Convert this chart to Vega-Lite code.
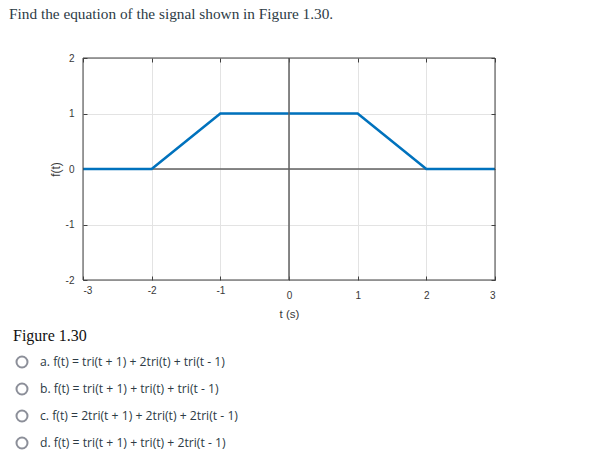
{
  "$schema": "https://vega.github.io/schema/vega-lite/v6.json",
  "background": "white",
  "padding": {"left": 9, "top": 6, "right": 5, "bottom": 5},
  "title": {"text": "Find the equation of the signal shown in Figure 1.30.", "anchor": "start", "frame": "group", "dx": -74, "offset": 31, "baseline": "top", "font": "Liberation Serif", "fontSize": 15.3, "fontWeight": "normal", "color": "#2d3b45"},
  "config": {"view": {"stroke": null}},
  "bounds": "flush",
  "spacing": 55,
  "vconcat": [
    {
      "width": 412,
      "height": 222,
      "resolve": {"axis": {"x": "independent", "y": "independent"}},
      "layer": [
        {
          "data": {"values": [{"v": 0}]},
          "mark": {"type": "rule", "color": "#616161", "strokeWidth": 1.5},
          "encoding": {
            "y": {"field": "v", "type": "quantitative", "scale": {"domain": [-2, 2], "nice": false, "zero": false},
              "axis": {"orient": "right", "values": [-2, -1, 0, 1, 2], "labels": false, "grid": false, "domain": false, "ticks": true, "tickSize": 4, "offset": -4, "tickColor": "#404040", "title": null}}
          }
        },
        {
          "data": {"values": [
            {"t": -3, "f": 0}, {"t": -2, "f": 0}, {"t": -1, "f": 1}, {"t": 1, "f": 1}, {"t": 2, "f": 0}, {"t": 3, "f": 0}
          ]},
          "mark": {"type": "line", "color": "#0072BD", "strokeWidth": 2.6},
          "encoding": {
            "x": {"field": "t", "type": "quantitative", "scale": {"domain": [-3, 3], "nice": false, "zero": false},
              "axis": {"orient": "bottom", "values": [-3, -2, -1, 0, 1, 2, 3], "labelExpr": "'' + datum.value", "grid": true, "gridColor": "#e3e3e3", "domain": false, "ticks": true, "tickSize": 4, "offset": -4, "tickColor": "#404040",
                "labelPadding": {"condition": {"test": "datum.value < 0", "value": 5}, "value": 10}, "labelFont": "Liberation Sans", "labelFontSize": 10, "labelColor": "#383838",
                "title": "t (s)", "titleFont": "Liberation Sans", "titleFontSize": 11.5, "titleFontWeight": "normal", "titleColor": "#383838", "titlePadding": 8}},
            "y": {"field": "f", "type": "quantitative", "scale": {"domain": [-2, 2], "nice": false, "zero": false},
              "axis": {"orient": "left", "values": [-2, -1, 0, 1, 2], "labelExpr": "'' + datum.value", "grid": true, "gridColor": "#e3e3e3", "domain": false, "ticks": true, "tickSize": 4, "offset": -4, "tickColor": "#404040",
                "labelPadding": 9, "labelFont": "Liberation Sans", "labelFontSize": 10, "labelColor": "#383838",
                "title": "f(t)", "titleFont": "Liberation Sans", "titleFontSize": 12, "titleFontWeight": "normal", "titleColor": "#383838", "titlePadding": 3}}
          }
        },
        {
          "data": {"values": [{"v": 0}]},
          "mark": {"type": "rule", "color": "#616161", "strokeWidth": 1.5},
          "encoding": {
            "x": {"field": "v", "type": "quantitative", "scale": {"domain": [-3, 3], "nice": false, "zero": false},
              "axis": {"orient": "top", "values": [-3, -2, -1, 0, 1, 2, 3], "labels": false, "grid": false, "domain": false, "ticks": true, "tickSize": 4, "offset": -4, "tickColor": "#404040", "title": null}}
          }
        },
        {
          "data": {"values": [{}]},
          "mark": {"type": "rect", "fill": null, "stroke": "#404040", "strokeWidth": 1},
          "encoding": {
            "x": {"value": 0}, "x2": {"value": "width"},
            "y": {"value": 0}, "y2": {"value": "height"}
          }
        }
      ]
    },
    {
      "width": 412,
      "height": 108,
      "data": {"values": [
        {"item": "Figure 1.30", "kind": "caption"},
        {"item": "a. f(t) = tri(t + 1) + 2tri(t) + tri(t - 1)", "kind": "option"},
        {"item": "b. f(t) = tri(t + 1) + tri(t) + tri(t - 1)", "kind": "option"},
        {"item": "c. f(t) = 2tri(t + 1) + 2tri(t) + 2tri(t - 1)", "kind": "option"},
        {"item": "d. f(t) = tri(t + 1) + tri(t) + 2tri(t - 1)", "kind": "option"}
      ]},
      "encoding": {
        "y": {"field": "item", "type": "nominal", "axis": null,
          "scale": {"type": "point", "padding": 0, "domain": ["Figure 1.30", "a. f(t) = tri(t + 1) + 2tri(t) + tri(t - 1)", "b. f(t) = tri(t + 1) + tri(t) + tri(t - 1)", "c. f(t) = 2tri(t + 1) + 2tri(t) + 2tri(t - 1)", "d. f(t) = tri(t + 1) + tri(t) + 2tri(t - 1)"]}}
      },
      "layer": [
        {
          "transform": [{"filter": "datum.kind == 'caption'"}],
          "mark": {"type": "text", "align": "left", "baseline": "alphabetic", "dy": 6, "font": "Liberation Serif", "fontSize": 16, "color": "#111111"},
          "encoding": {"x": {"value": -70}, "text": {"field": "item"}}
        },
        {
          "transform": [{"filter": "datum.kind == 'option'"}],
          "mark": {"type": "point", "shape": "circle", "filled": false, "size": 121, "strokeWidth": 2, "color": "#8c8f99", "opacity": 1},
          "encoding": {"x": {"value": -61}}
        },
        {
          "transform": [{"filter": "datum.kind == 'option'"}],
          "mark": {"type": "text", "align": "left", "baseline": "middle", "font": "Open Sans", "fontSize": 12.2, "color": "#2d3b45"},
          "encoding": {"x": {"value": -43}, "text": {"field": "item"}}
        }
      ]
    }
  ]
}
